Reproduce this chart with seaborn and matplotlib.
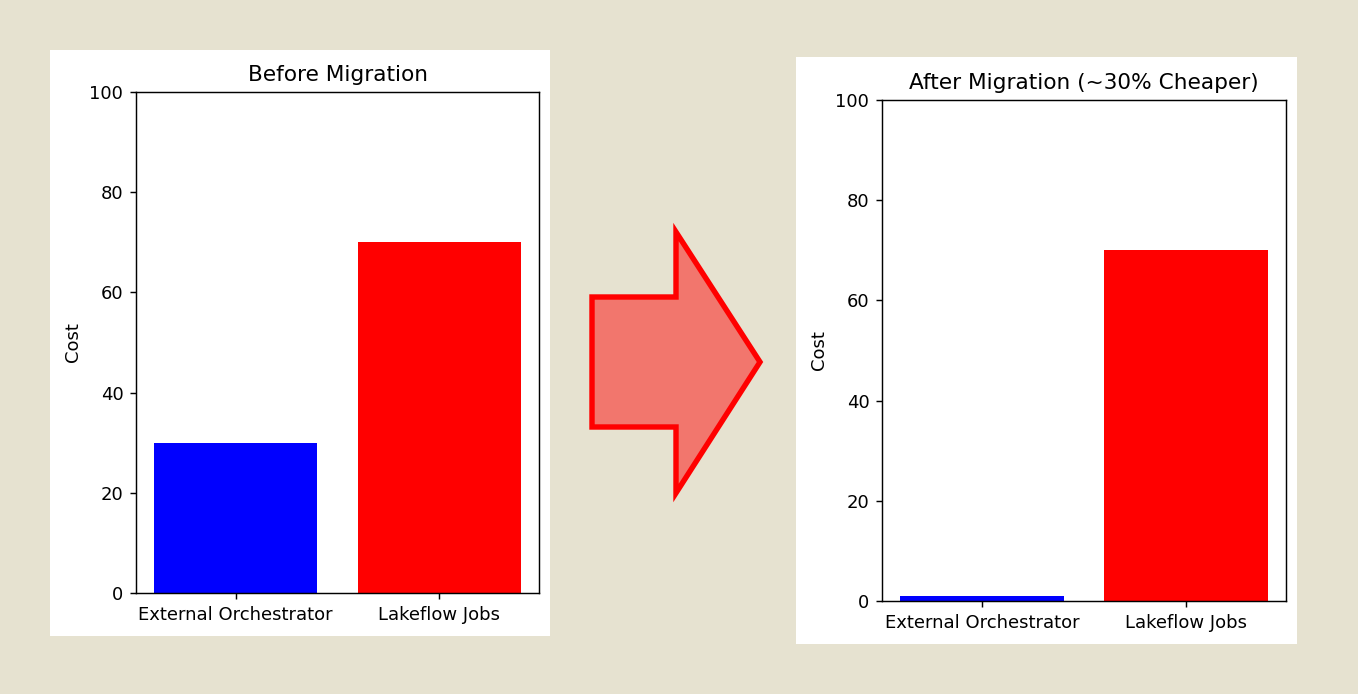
import seaborn as sns
import pandas as pd
import matplotlib.pyplot as plt
from matplotlib.patches import Rectangle, Polygon

# Cost comparison before / after moving orchestration to Lakeflow Jobs
categories = ["External Orchestrator", "Lakeflow Jobs"]
cost_before = [30, 70]
cost_after = [1, 70]
bar_colors = ["blue", "red"]
titles = ["Before Migration", "After Migration (~30% Cheaper)"]

BG = "#e6e2d0"
W, H = 1358, 694
DPI = 130


def px_box(x0, y0, x1, y1):
    # pixel box (top-left origin) -> figure fraction [left, bottom, width, height]
    return [x0 / W, 1 - y1 / H, (x1 - x0) / W, (y1 - y0) / H]


def draw_panel(fig, panel, axbox, values, title):
    l, b, w, h = px_box(*panel)
    fig.patches.append(Rectangle((l, b), w, h, transform=fig.transFigure,
                                 facecolor="white", edgecolor="none", zorder=-5))
    ax = fig.add_axes(px_box(*axbox))
    ax.set_zorder(2)
    df = pd.DataFrame({"category": categories, "cost": values})
    sns.barplot(data=df, x="category", y="cost", hue="category",
                palette=bar_colors, saturation=1, width=0.8, legend=False, ax=ax)
    ax.set_xlim(-0.49, 1.49)
    ax.set_ylim(0, 100)
    ax.set_title(title, fontsize=12)
    ax.set_xlabel("")
    ax.set_ylabel("Cost")
    return ax


if __name__ == '__main__':
    fig = plt.figure(figsize=(W / DPI, H / DPI), dpi=DPI, facecolor=BG)

    draw_panel(fig, (50, 50, 550, 636), (136, 92, 539, 593), cost_before, titles[0])
    draw_panel(fig, (796, 57, 1297, 644), (882, 100, 1286, 601), cost_after, titles[1])

    # big arrow between the two panels
    pts = [(592, 297), (676, 297), (676, 232), (760, 362), (676, 493), (676, 427), (592, 427)]
    pts = [(x / W, 1 - y / H) for x, y in pts]
    fig.patches.append(Polygon(pts, closed=True, transform=fig.transFigure,
                               facecolor="#f2766d", edgecolor="red", linewidth=3, zorder=1))

    fig.savefig("out.png", dpi=DPI, facecolor=BG)
